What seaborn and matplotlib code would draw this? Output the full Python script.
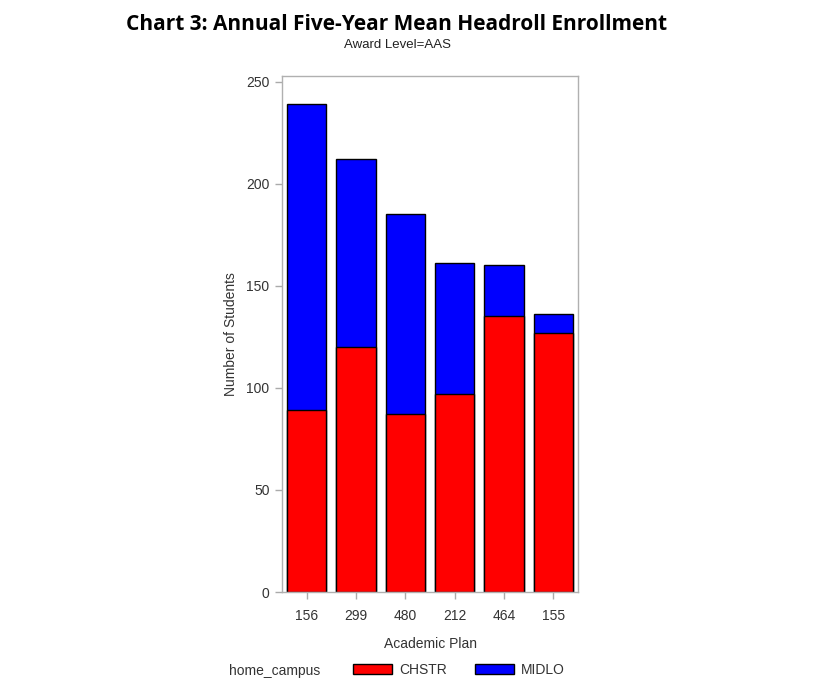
import matplotlib
matplotlib.use("Agg")
import matplotlib.pyplot as plt
import seaborn as sns
import pandas as pd
from matplotlib.patches import Patch

plans = ["156", "299", "480", "212", "464", "155"]
chstr = [89, 120, 87, 97, 135, 127]
midlo = [150, 92, 98, 64, 25, 9]
yticks = [0, 50, 100, 150, 200, 250]

sns.set_theme(style="white")
plt.rcParams['font.family'] = ['Liberation Sans', 'DejaVu Sans']

df = pd.DataFrame({"plan": plans, "CHSTR": chstr, "MIDLO": midlo})
df["total"] = df["CHSTR"] + df["MIDLO"]

fig = plt.figure(figsize=(8.22, 6.84), dpi=100)
ax = fig.add_axes([282/822, 1-592/684, (578-282)/822, (592-76)/684])

sns.barplot(data=df, x="plan", y="total", order=plans, color="#0000ff",
            saturation=1, width=0.8, edgecolor="black", linewidth=1, ax=ax)
sns.barplot(data=df, x="plan", y="CHSTR", order=plans, color="#ff0000",
            saturation=1, width=0.8, edgecolor="black", linewidth=1, ax=ax)

ax.set_xlim(-0.5, len(plans) - 0.5)
ax.set_ylim(0, 252.8)
ax.set_yticks(yticks)
ax.set_yticklabels([str(t) for t in yticks])
ax.tick_params(axis="both", labelsize=10, colors="#333333", length=5, width=1,
               color="#aaaaaa", left=True, bottom=True, pad=4)
ax.tick_params(axis="x", pad=7)
for s in ax.spines.values():
    s.set_color("#b0b0b0")
    s.set_linewidth(1)
ax.set_xlabel("Academic Plan", fontsize=10, color="#333333", labelpad=10)
ax.set_ylabel("Number of Students", fontsize=10, color="#333333", labelpad=6)

fig.text(397/822, 1-24/684, "Chart 3: Annual Five-Year Mean Headroll Enrollment",
         ha="center", va="center", fontsize=15, fontweight="bold",
         family=["Open Sans", "DejaVu Sans"], color="black")
fig.text(397/822, 1-45/684, "Award Level=AAS", ha="center", va="center",
         fontsize=9.5, color="#222222")

handles = [Patch(facecolor="#ff0000", edgecolor="black", label="CHSTR"),
           Patch(facecolor="#0000ff", edgecolor="black", label="MIDLO")]
leg = fig.legend(handles=handles, loc="center", bbox_to_anchor=(459/822, 1-670/684),
                 ncol=2, frameon=False, fontsize=10, handlelength=2.8,
                 handleheight=0.8, columnspacing=2.0, handletextpad=0.5)
for t in leg.get_texts():
    t.set_color("#333333")
fig.text(229/822, 1-671/684, "home_campus", ha="left", va="center", fontsize=10,
         color="#333333")

fig.savefig("out.png", dpi=100)
